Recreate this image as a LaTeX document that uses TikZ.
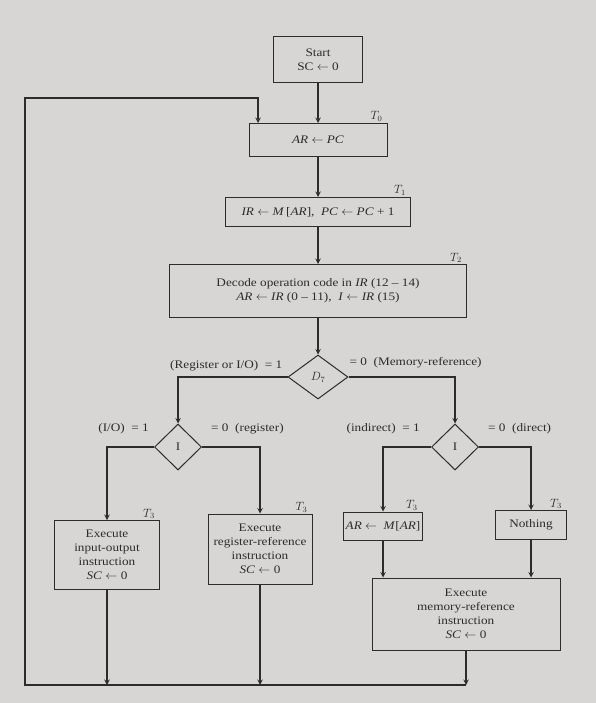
\documentclass[tikz,border=0pt]{standalone}
\usepackage{fontspec}
\setmainfont{Liberation Serif}[FakeStretch=1.15]
\usetikzlibrary{shapes.geometric}
\definecolor{paper}{RGB}{216,214,212}
\definecolor{ink}{RGB}{45,43,43}
\begin{document}
\begin{tikzpicture}[x=1pt, y=-1pt, node distance=80pt, font=\fontsize{11.5}{14}\selectfont]
    \tikzstyle{box} = [rectangle, draw=ink, line width=1pt, text=ink, align=center, inner sep=2pt]
    \tikzstyle{test} = [diamond, draw=ink, line width=1pt, text=ink, inner sep=0pt]
    \tikzstyle{tlab} = [text=ink, anchor=south east, inner sep=1pt, xshift=-4pt]
    \tikzstyle{cond} = [text=ink, inner sep=1pt]
    \tikzstyle{arrow} = [draw=ink, line width=1.4pt, ->, >=stealth]

    \useasboundingbox (0,0) rectangle (596,703);
    \fill [paper] (0,0) rectangle (596,703);

    % Fetch and decode
    \node [box, minimum width=89pt, minimum height=46pt] (start) at (318,60) {Start\\SC $\leftarrow$ 0};
    \node [box, below of=start, minimum width=138pt, minimum height=33pt] (fetch0) {\textit{AR} $\leftarrow$ \textit{PC}};
    \node [box, node distance=72pt, below of=fetch0, minimum width=185pt, minimum height=29pt] (fetch1) {\textit{IR} $\leftarrow$ \textit{M}\,[\textit{AR}], \ \textit{PC} $\leftarrow$ \textit{PC} + 1};
    \node [box, node distance=79pt, below of=fetch1, minimum width=297pt, minimum height=53pt] (decode) {Decode operation code in \textit{IR} (12 -- 14)\\\textit{AR} $\leftarrow$ \textit{IR} (0 -- 11), \ \textit{I} $\leftarrow$ \textit{IR} (15)};

    \node [tlab] (t0) at (fetch0.north east) {$T_0$};
    \node [tlab] (t1) at (fetch1.north east) {$T_1$};
    \node [tlab] (t2) at (decode.north east) {$T_2$};

    % Decisions
    \node [test, node distance=86pt, below of=decode, minimum width=60pt, minimum height=44pt] (d7) {$D_7$};
    \node [test, node distance=70pt, below of=d7, xshift=-140pt, minimum width=47pt, minimum height=46pt] (ileft) {I};
    \node [test, node distance=70pt, below of=d7, xshift=137pt, minimum width=47pt, minimum height=46pt] (iright) {I};

    \node [cond, anchor=south east, xshift=-4pt, yshift=5pt] (c1) at (d7.west) {(Register or I/O) \ = 1};
    \node [cond, anchor=south west, xshift=0pt, yshift=8pt] (c0) at (d7.east) {= 0 \ (Memory-reference)};
    \node [cond, anchor=south east, xshift=-4pt, yshift=12pt] (c3) at (ileft.west) {(I/O) \ = 1};
    \node [cond, anchor=south west, xshift=8pt, yshift=12pt] (c2) at (ileft.east) {= 0 \ (register)};
    \node [cond, anchor=south east, xshift=-10pt, yshift=12pt] (c5) at (iright.west) {(indirect) \ = 1};
    \node [cond, anchor=south west, xshift=8pt, yshift=12pt] (c4) at (iright.east) {= 0 \ (direct)};

    % Execute
    \node [box, node distance=108pt, below of=ileft, xshift=-71pt, minimum width=105pt, minimum height=69pt] (exio) {Execute\\input-output\\instruction\\\textit{SC} $\leftarrow$ 0};
    \node [box, node distance=102pt, below of=ileft, xshift=82pt, minimum width=104pt, minimum height=70pt] (exreg) {Execute\\register-reference\\instruction\\\textit{SC} $\leftarrow$ 0};
    \node [box, node distance=79pt, below of=iright, xshift=-72pt, minimum width=77pt, minimum height=28pt] (indir) {\textit{AR} $\leftarrow$ \ \textit{M}[\textit{AR}]};
    \node [box, node distance=78pt, below of=iright, xshift=76pt, minimum width=71pt, minimum height=29pt] (nothing) {Nothing};
    \node [box, node distance=167pt, below of=iright, xshift=11pt, minimum width=188pt, minimum height=72pt] (exmem) {Execute\\memory-reference\\instruction\\\textit{SC} $\leftarrow$ 0};

    \node [tlab] (t3a) at (exio.north east) {$T_3$};
    \node [tlab] (t3b) at (exreg.north east) {$T_3$};
    \node [tlab] (t3c) at (indir.north east) {$T_3$};
    \node [tlab] (t3d) at (nothing.north east) {$T_3$};

    % Connections
    \draw [arrow] (start) -- (fetch0);
    \draw [arrow] (fetch0) -- (fetch1);
    \draw [arrow] (fetch1) -- (decode);
    \draw [arrow] (decode) -- (d7);
    \draw [arrow] (d7.west) -| (ileft.north);
    \draw [arrow] (d7.east) -| (iright.north);
    \draw [arrow] (ileft.west) -| (exio.north);
    \draw [arrow] (ileft.east) -| (exreg.north);
    \draw [arrow] (iright.west) -| (indir.north);
    \draw [arrow] (iright.east) -| (nothing.north);
    \draw [arrow] (indir) -- (indir |- exmem.north);
    \draw [arrow] (nothing) -- (nothing |- exmem.north);

    % Back to fetch
    \coordinate (back) at (25,685);
    \coordinate (top) at (25,98);
    \draw [arrow] (exio) -- (exio |- back);
    \draw [arrow] (exreg) -- (exreg |- back);
    \draw [arrow] (exmem) -- (exmem |- back);
    \draw [arrow] (exmem |- back) -- (back) -- (top) -| ([xshift=-60pt]fetch0.north);
\end{tikzpicture}
\end{document}
